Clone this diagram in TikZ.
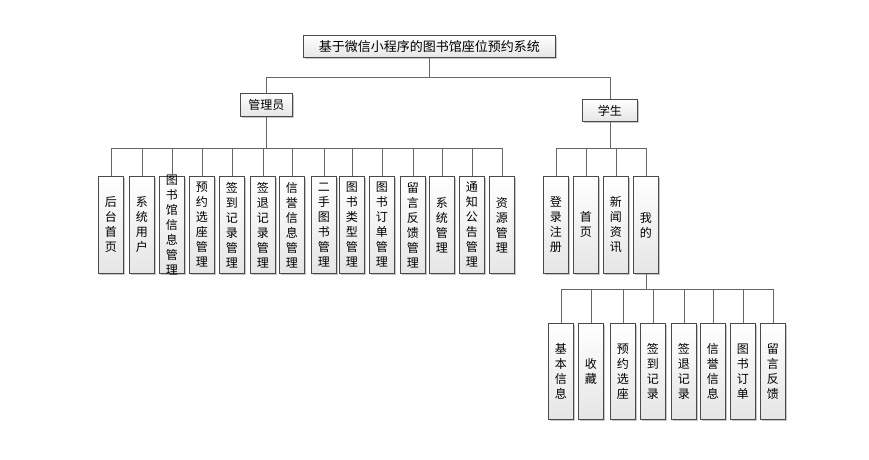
\documentclass[tikz,border=0pt]{standalone}
\usepackage{fontspec}
\newfontfamily\cjk{Noto Sans CJK SC}
\usetikzlibrary{shadows}
\definecolor{bord}{HTML}{4A4A4A}
\definecolor{conn}{HTML}{666666}
\begin{document}
\begin{tikzpicture}[x=1pt,y=-1pt,
  box/.style={draw=bord, line width=0.8pt, top color=white, bottom color=black!10,
    drop shadow={shadow xshift=1.2pt, shadow yshift=-1.2pt, fill=black, opacity=0.22},
    inner sep=0pt, anchor=north west},
  hbox/.style={box, font=\cjk\fontsize{12}{15}\selectfont},
  vbox/.style={box, minimum width=25pt, minimum height=97pt},
  vtext/.style={font=\cjk\fontsize{12}{15}\selectfont, align=center, inner sep=0pt},
  link/.style={draw=conn, line width=0.8pt}]
\useasboundingbox (0,0) rectangle (869,459);
\fill[white] (0,0) rectangle (869,459);

\coordinate (yb1) at (0,77);
\coordinate (yb2) at (0,148);
\coordinate (yb3) at (0,289);

% top levels
\node[hbox, font=\cjk\fontsize{13}{15}\selectfont, minimum width=252pt, minimum height=22pt] (title) at (303,35) {基于微信小程序的图书馆座位预约系统};
\node[hbox, minimum width=52pt, minimum height=23pt] (admin) at (240,93) {管理员};
\node[hbox, minimum width=55pt, minimum height=22pt] (student) at (582,99) {学生};

% admin children
\foreach \n/\x/\t in {
  a1/98/{后\\台\\首\\页},
  a2/129/{系\\统\\用\\户},
  a3/159/{图\\书\\馆\\信\\息\\管\\理},
  a4/189/{预\\约\\选\\座\\管\\理},
  a5/219/{签\\到\\记\\录\\管\\理},
  a6/250/{签\\退\\记\\录\\管\\理},
  a7/279/{信\\誉\\信\\息\\管\\理},
  a8/311/{二\\手\\图\\书\\管\\理},
  a9/339/{图\\书\\类\\型\\管\\理},
  a10/369/{图\\书\\订\\单\\管\\理},
  a11/400/{留\\言\\反\\馈\\管\\理},
  a12/429/{系\\统\\管\\理},
  a13/459/{通\\知\\公\\告\\管\\理},
  a14/489/{资\\源\\管\\理}}{
  \node[vbox] (\n) at (\x,176) {};
  \node[vtext] (\n t) at (\n.center) {\t};
}

% student children
\foreach \n/\x/\t in {
  s1/543/{登\\录\\注\\册},
  s2/573/{首\\页},
  s3/603/{新\\闻\\资\\讯},
  s4/633/{我\\的}}{
  \node[vbox] (\n) at (\x,176) {};
  \node[vtext] (\n t) at (\n.center) {\t};
}

% my children
\foreach \n/\x/\t in {
  m1/548/{基\\本\\信\\息},
  m2/578/{收\\藏},
  m3/610/{预\\约\\选\\座},
  m4/640/{签\\到\\记\\录},
  m5/671/{签\\退\\记\\录},
  m6/700/{信\\誉\\信\\息},
  m7/730/{图\\书\\订\\单},
  m8/760/{留\\言\\反\\馈}}{
  \node[vbox, minimum height=96pt] (\n) at (\x,323) {};
  \node[vtext] (\n t) at (\n.center) {\t};
}

% connectors
\draw[link] (title.south) -- (title.south |- yb1);
\draw[link] (admin.north) |- (student.north |- yb1) -- (student.north);

\draw[link] (admin.south) -- (admin.south |- yb2);
\draw[link] (a1.north) |- (a14.north |- yb2) -- (a14.north);
\foreach \i in {2,...,13}{ \draw[link] (a\i.north) -- (a\i.north |- yb2); }

\draw[link] (student.south) -- (student.south |- yb2);
\draw[link] (s1.north) |- (s4.north |- yb2) -- (s4.north);
\foreach \i in {2,3}{ \draw[link] (s\i.north) -- (s\i.north |- yb2); }

\draw[link] (s4.south) -- (s4.south |- yb3);
\draw[link] (m1.north) |- (m8.north |- yb3) -- (m8.north);
\foreach \i in {2,...,7}{ \draw[link] (m\i.north) -- (m\i.north |- yb3); }
\end{tikzpicture}
\end{document}
